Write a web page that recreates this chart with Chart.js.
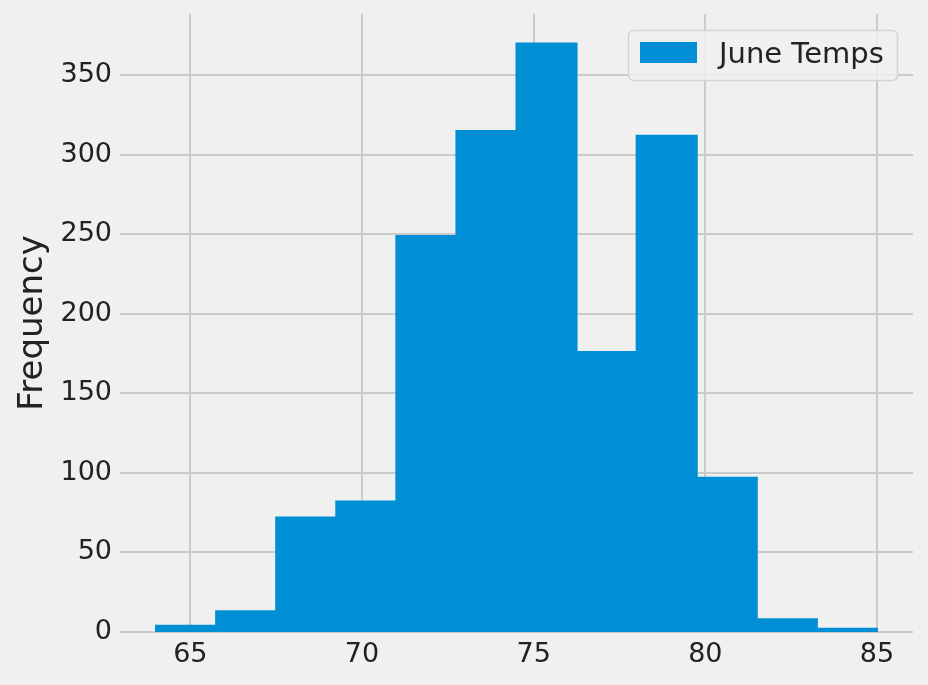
<!DOCTYPE html>
<html>
<head>
<meta charset="utf-8">
<script src="https://cdn.jsdelivr.net/npm/chart.js@4/dist/chart.umd.min.js"></script>
<style>
  html, body { margin: 0; padding: 0; background: #f0f0f0; }
  #wrap { width: 928px; height: 685px; }
</style>
</head>
<body>
<div id="wrap"><canvas id="histChart" width="928" height="685"></canvas></div>
<script>
// histogram bins (12 bins, width 1.75, from 64 to 85)
const binCenters = [64.875, 66.625, 68.375, 70.125, 71.875, 73.625, 75.375, 77.125, 78.875, 80.625, 82.375, 84.125];
const juneCounts = [4, 13, 72, 82, 249, 315, 370, 176, 312, 97, 8, 2];
const xTicks = [65, 70, 75, 80, 85];
const yTicks = [0, 50, 100, 150, 200, 250, 300, 350];
const seriesName = 'June Temps';

const FONT = "'DejaVu Sans', sans-serif";
const BAR_COLOR = '#008fd5';

// legend box drawn in the top right corner of the plot, matplotlib style
const legendBox = {
    id: 'legendBox',
    afterDatasetsDraw(chart) {
        const ctx = chart.ctx;
        const area = chart.chartArea;
        const w = 269, h = 50;
        const x = area.right - 16 - w, y = area.top + 16;
        ctx.save();
        ctx.fillStyle = 'rgba(240,240,240,0.8)';
        ctx.strokeStyle = '#d4d4d4';
        ctx.lineWidth = 1.5;
        ctx.beginPath();
        ctx.roundRect(x + 0.5, y + 0.5, w, h, 5);
        ctx.fill();
        ctx.stroke();
        ctx.fillStyle = BAR_COLOR;
        ctx.fillRect(x + 12, y + 12, 57, 21);
        ctx.fillStyle = '#222';
        ctx.font = '29px ' + FONT;
        ctx.textBaseline = 'middle';
        ctx.fillText(seriesName, x + 91, y + 25);
        ctx.restore();
    }
};

const bgPlugin = {
    id: 'bg',
    beforeDraw(chart) {
        const ctx = chart.ctx;
        ctx.save();
        ctx.fillStyle = '#f0f0f0';
        ctx.fillRect(0, 0, chart.width, chart.height);
        ctx.restore();
    }
};

new Chart(document.getElementById('histChart').getContext('2d'), {
    type: 'bar',
    data: {
        datasets: [{
            label: seriesName,
            data: binCenters.map((c, i) => ({ x: c, y: juneCounts[i] })),
            backgroundColor: BAR_COLOR,
            borderWidth: 0,
            inflateAmount: 1,
            barPercentage: 1,
            categoryPercentage: 1
        }]
    },
    options: {
        responsive: false,
        animation: false,
        layout: { padding: { left: 0, right: 15, top: 14, bottom: 0 } },
        scales: {
            x: {
                type: 'linear',
                offset: false,
                min: 62.95,
                max: 86.05,
                afterBuildTicks: s => { s.ticks = xTicks.map(v => ({ value: v })); },
                afterFit: s => { s.height = 53; s.paddingLeft = 0; s.paddingRight = 0; },
                grid: { color: '#cbcbcb', lineWidth: 2, drawTicks: false, offset: false },
                border: { display: false },
                ticks: { color: '#222', font: { family: FONT, size: 27 }, padding: 7, maxRotation: 0 }
            },
            y: {
                min: 0,
                max: 388.5,
                afterBuildTicks: s => { s.ticks = yTicks.map(v => ({ value: v })); },
                afterFit: s => { s.width = 120; s.paddingTop = 0; s.paddingBottom = 0; },
                grid: { color: '#cbcbcb', lineWidth: 2, drawTicks: false },
                border: { display: false },
                ticks: { color: '#222', font: { family: FONT, size: 27 }, padding: 8 },
                title: { display: true, text: 'Frequency', color: '#222', font: { family: FONT, size: 34 }, padding: { top: 13, bottom: 0 } }
            }
        },
        plugins: {
            legend: { display: false },
            tooltip: { enabled: false }
        }
    },
    plugins: [bgPlugin, legendBox]
});
</script>
</body>
</html>
